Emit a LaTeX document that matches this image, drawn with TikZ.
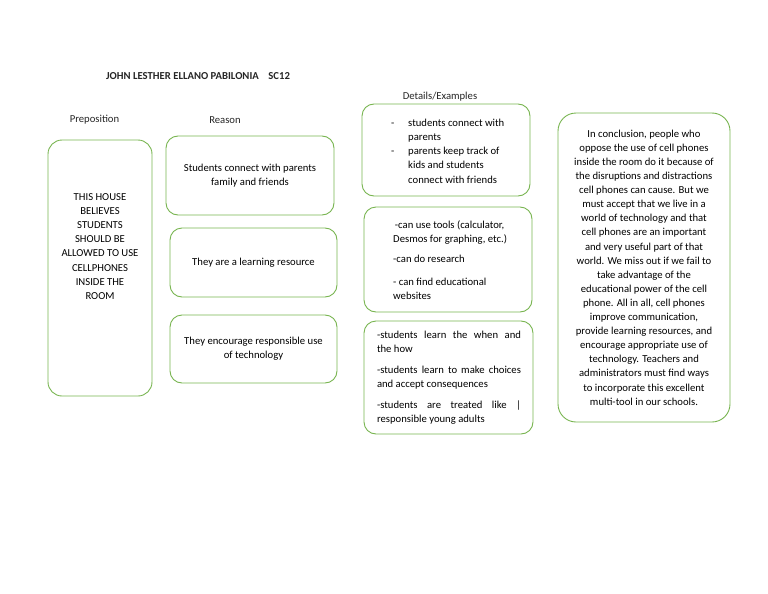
\documentclass[tikz,border=0pt]{standalone}
\usepackage{fontspec}
\setmainfont{Carlito}
\definecolor{boxgreen}{RGB}{120,180,80}

\begin{document}
\begin{tikzpicture}[
  x=1pt, y=-1pt,
  txt/.style={font=\fontsize{10.67}{14.1}\selectfont, inner sep=0pt},
  box/.style={txt, draw=boxgreen, line width=0.9pt, rounded corners=12pt,
    align=center},
  head/.style={txt, text=black!85},
]

\useasboundingbox (0,0) rectangle (768,594);

% ── headings ─────────────────────────────────────────────
\node[head, font=\fontsize{10.67}{13}\selectfont\bfseries, anchor=west] (title)
  at (106, 76) {JOHN LESTHER ELLANO PABILONIA\hspace{0.9em}SC12};
\node[head] (hprop)   at (94.5, 120) {Preposition};
\node[head] (hreason) at (225, 120)  {Reason};
\node[head] (hdetail) at (440, 97)   {Details/Examples};

% ── preposition ──────────────────────────────────────────
\node[box, rounded corners=14pt, minimum width=104pt, minimum height=256pt]
  (prop) at (100, 268) {};
\node[txt, align=center] (proptext) at (100, 246.5)
  {THIS HOUSE\\ BELIEVES\\ STUDENTS\\ SHOULD BE\\ ALLOWED TO USE\\
   CELLPHONES\\ INSIDE THE\\ ROOM};

% ── reasons ──────────────────────────────────────────────
\node[box, minimum width=168pt, minimum height=79pt] (reasonA) at (250, 175.5)
  {Students connect with parents\\ family and friends};
\node[box, minimum width=167pt, minimum height=69pt] (reasonB) at (253.5, 262.5)
  {They are a learning resource};
\node[box, minimum width=167pt, minimum height=68pt] (reasonC) at (253.5, 349)
  {They encourage responsible use\\ of technology};

% ── details / examples ───────────────────────────────────
\node[box, minimum width=168pt, minimum height=92pt] (detailA) at (446, 150) {};
\node[txt, anchor=west] (detailAtext) at (391, 152)
  {\begin{tabular}{@{}p{5pt}l@{}}
   - & students connect with\\
     & parents\\
   - & parents keep track of\\
     & kids and students\\
     & connect with friends
   \end{tabular}};

\node[box, minimum width=168pt, minimum height=105pt] (detailB) at (448, 259.5) {};
\node[txt, align=left, anchor=west] (detailBtext) at (393, 260)
  {\,-can use tools (calculator,\\ Desmos for graphing, etc.)\\[6pt]
   -can do research\\[9pt]
   - can find educational\\ websites};

\node[box, minimum width=169pt, minimum height=113pt] (detailC) at (448.5, 377.5) {};
\node[txt, text width=144pt, align=justify] (detailCtext) at (449, 377.5)
  {-students learn the when and\linebreak the how\\[7pt]
   -students learn to make choices\linebreak and accept consequences\\[7pt]
   -students are treated like |\linebreak responsible young adults};

% ── conclusion ───────────────────────────────────────────
\node[box, rounded corners=18pt, minimum width=172pt, minimum height=309pt]
  (concl) at (644, 267.5)
  {In conclusion, people who\\ oppose the use of cell phones\\
   inside the room do it because of\\ the disruptions and distractions\\
   cell phones can cause. But we\\ must accept that we live in a\\
   world of technology and that\\ cell phones are an important\\
   and very useful part of that\\ world. We miss out if we fail to\\
   take advantage of the\\ educational power of the cell\\
   phone. All in all, cell phones\\ improve communication,\\
   provide learning resources, and\\ encourage appropriate use of\\
   technology. Teachers and\\ administrators must find ways\\
   to incorporate this excellent\\ multi-tool in our schools.};

\end{tikzpicture}
\end{document}
